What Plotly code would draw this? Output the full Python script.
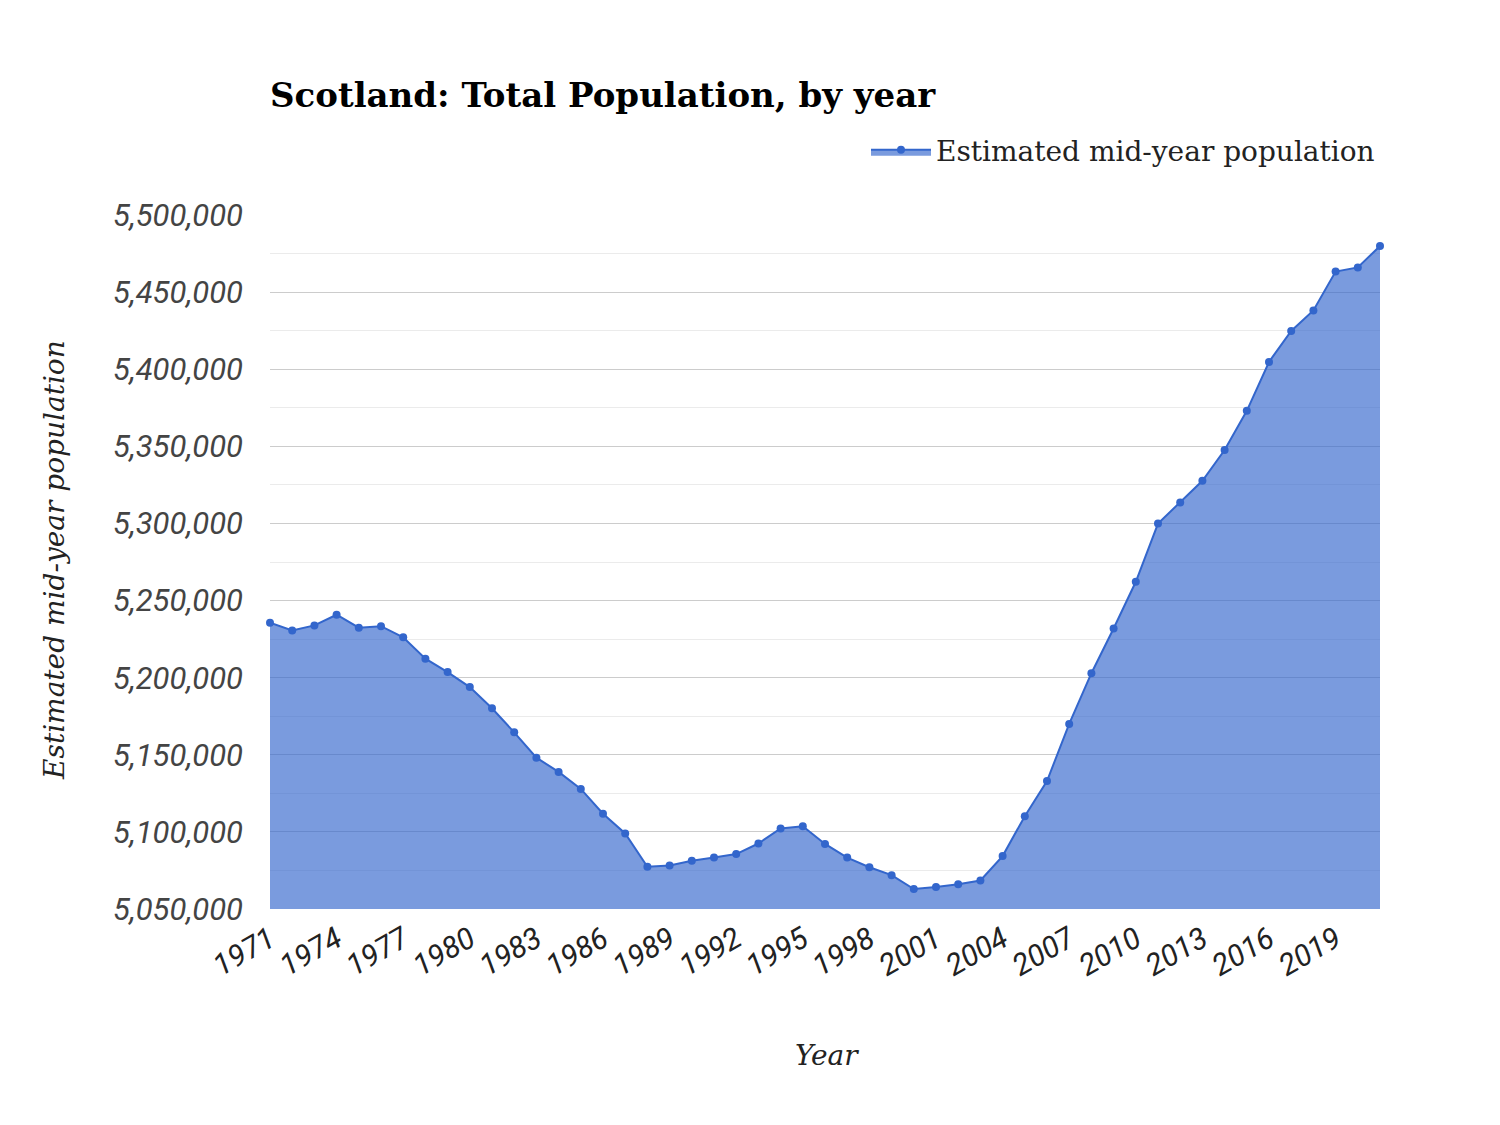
import plotly.graph_objects as go

# Estimated mid-year population of Scotland
years = list(range(1971, 2022))
population = [
    5235600, 5230600, 5233900, 5240800, 5232400, 5233400, 5226200, 5212300,
    5203600, 5193900, 5180200, 5164540, 5148120, 5138880, 5127890, 5111760,
    5099020, 5077440, 5078190, 5081270, 5083330, 5085620, 5092460, 5102210,
    5103690, 5092190, 5083340, 5077070, 5071950, 5062940, 5064200, 5066000,
    5068500, 5084300, 5110200, 5133000, 5170000, 5202900, 5231900, 5262200,
    5299900, 5313600, 5327700, 5347600, 5373000, 5404700, 5424800, 5438100,
    5463300, 5466000, 5479900,
]
x_ticks = list(range(1971, 2020, 3))
y_ticks = list(range(5050000, 5500001, 50000))

slab = "Roboto Slab, DejaVu Serif, serif"
sans = "Roboto, sans-serif"

fig = go.Figure()
fig.add_trace(go.Scatter(
    x=years, y=population, name="Estimated mid-year population",
    mode="lines+markers", fill="tozeroy",
    line=dict(color="#3366cc", width=2),
    marker=dict(color="#3366cc", size=8),
    fillcolor="rgba(51,102,204,0.65)",
    cliponaxis=False,
))

# the page body adds an 8px offset, so margins are shifted to compensate
fig.update_layout(
    width=1500, height=1125,
    paper_bgcolor="white", plot_bgcolor="white",
    margin=dict(l=262, r=128, t=207, b=224),
    title=dict(text="<b>Scotland: Total Population, by year</b>",
               font=dict(family=slab, size=34, color="#000"),
               x=262 / 1500, xanchor="left", y=1 - 87 / 1125, yanchor="middle"),
    showlegend=True,
    legend=dict(x=1, xanchor="right", y=1.0937, yanchor="middle",
                orientation="h", itemwidth=60,
                font=dict(family=slab, size=28, color="#222")),
    xaxis=dict(range=[1971, 2021], tickvals=x_ticks, tickangle=-30,
               showgrid=False, zeroline=False, showline=False, ticks="",
               ticklabelstandoff=6,
               tickfont=dict(family=sans, size=30, color="#222", style="italic")),
    yaxis=dict(range=[5050000, 5500000], tickvals=y_ticks, tickformat=",d",
               showgrid=True, gridcolor="#cccccc", zeroline=False, showline=False,
               minor=dict(dtick=25000, tick0=5050000, showgrid=True, gridcolor="#ebebeb"),
               ticklabelstandoff=26,
               tickfont=dict(family=sans, size=31, color="#444", style="italic")),
    annotations=[
        dict(text="Estimated mid-year population", xref="paper", yref="paper",
             x=-0.1937, y=0.503, textangle=-90, showarrow=False,
             xanchor="center", yanchor="middle",
             font=dict(family=slab, size=28, color="#222", style="italic")),
        dict(text="Year", xref="paper", yref="paper",
             x=0.502, y=-0.2104, showarrow=False,
             xanchor="center", yanchor="middle",
             font=dict(family=slab, size=28, color="#222", style="italic")),
    ],
)

fig.write_html("out.html")
